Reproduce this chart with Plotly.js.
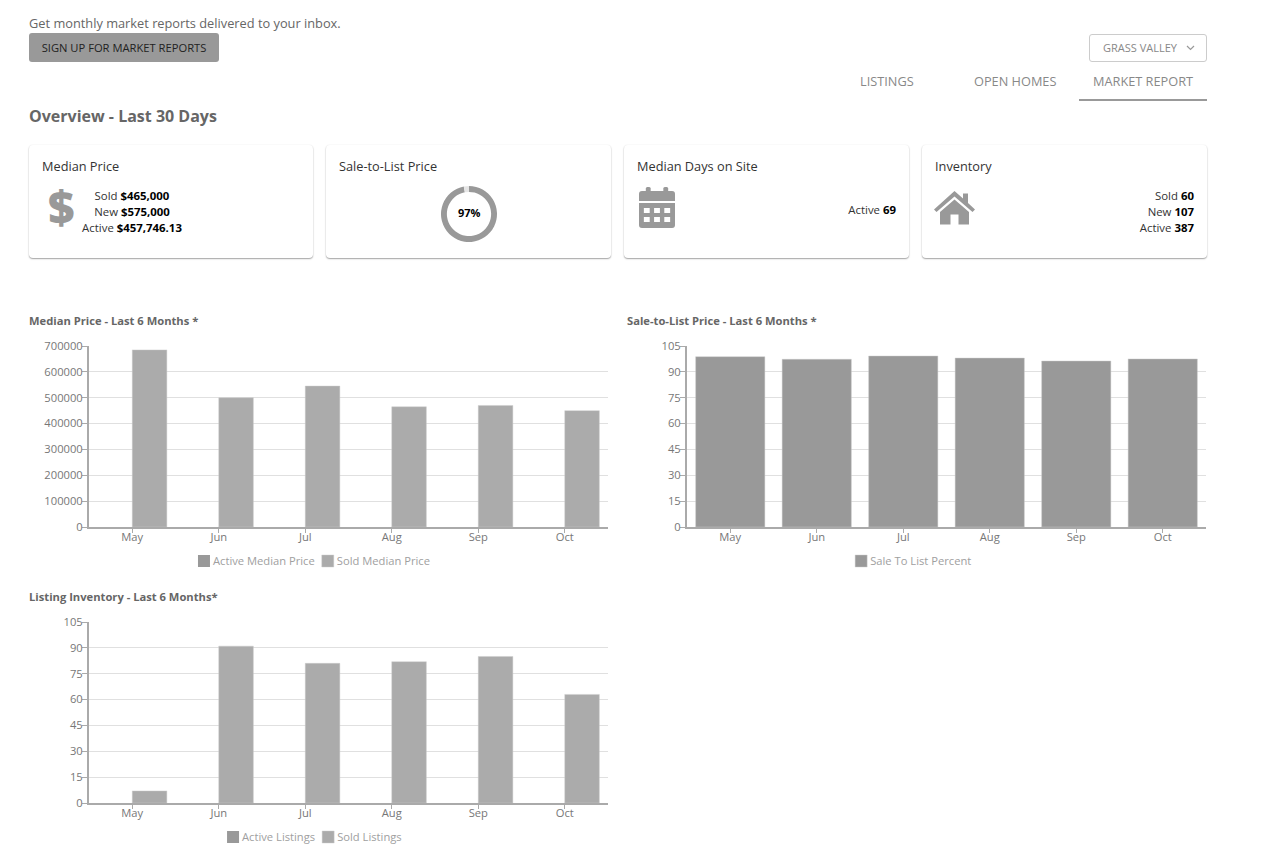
<!DOCTYPE html>
<html>
<head>
<meta charset="utf-8">
<title>Market Report</title>
<script src="https://cdn.plot.ly/plotly-3.0.1.min.js"></script>
<style>
html,body{margin:0;padding:0;background:#fff;width:1273px;height:866px;overflow:hidden;font-family:"Open Sans",sans-serif;color:#666;}
.a{position:absolute;white-space:nowrap;}
.card{position:absolute;top:145px;height:113px;background:#fff;border-radius:4px;box-shadow:0 1px 1.5px rgba(0,0,0,.36),0 0 2px rgba(0,0,0,.05);}
.ct{position:absolute;font-size:12.75px;color:#333;line-height:18px;top:157px;white-space:nowrap;}
.stat{position:absolute;font-size:11.4px;line-height:16px;color:#333;white-space:nowrap;}
.stat b{color:#000;font-weight:700;margin-left:3px;}
.sec{position:absolute;font-size:11.2px;font-weight:700;color:#666;line-height:16px;white-space:nowrap;}
.tab{position:absolute;top:72px;font-size:12.75px;line-height:18px;color:#888;white-space:nowrap;}
.plot{position:absolute;}
</style>
</head>
<body>
<div class="a" style="left:29px;top:14px;font-size:12.8px;line-height:18px;color:#666;">Get monthly market reports delivered to your inbox.</div>
<div class="a" style="left:29px;top:33px;width:190px;height:29px;background:#999;border-radius:3px;font-size:11.2px;line-height:30px;text-align:center;color:#222;">SIGN UP FOR MARKET REPORTS</div>
<div class="a" style="left:1089px;top:34px;width:116px;height:26px;border:1px solid #ccc;border-radius:3px;"></div>
<div class="a" style="left:1103px;top:39px;font-size:11px;line-height:18px;color:#888;">GRASS VALLEY</div>
<svg class="a" style="left:1186px;top:45px;" width="9" height="6"><path d="M1 1 L4.5 4.5 L8 1" fill="none" stroke="#999" stroke-width="1.2"/></svg>
<div class="tab" style="left:860px;">LISTINGS</div>
<div class="tab" style="left:974px;">OPEN HOMES</div>
<div class="tab" style="left:1093px;">MARKET REPORT</div>
<div class="a" style="left:1079px;top:99px;width:128px;height:2px;background:#999;"></div>
<div class="a" style="left:29px;top:105px;font-size:16px;font-weight:700;line-height:22px;color:#666;">Overview - Last 30 Days</div>

<div class="card" style="left:29px;width:284px;"></div>
<div class="card" style="left:326px;width:285px;"></div>
<div class="card" style="left:624px;width:285px;"></div>
<div class="card" style="left:922px;width:285px;"></div>

<div class="ct" style="left:42px;">Median Price</div>
<div class="ct" style="left:339px;">Sale-to-List Price</div>
<div class="ct" style="left:637px;">Median Days on Site</div>
<div class="ct" style="left:935px;">Inventory</div>

<div class="a" style="left:48px;top:173px;font-size:46px;font-weight:800;line-height:66px;color:#999;">$</div>
<div class="stat" style="left:62px;width:140px;top:188px;text-align:center;">Sold<b>$465,000</b><br>New<b>$575,000</b><br>Active<b>$457,746.13</b></div>

<div id="donut" class="plot" style="left:434px;top:179px;width:70px;height:70px;"></div>

<svg class="a" style="left:639px;top:187px;" width="36" height="42" viewBox="0 0 37 42" preserveAspectRatio="none">
  <rect x="7" y="0" width="5" height="8" rx="1.5" fill="#999"/><rect x="25" y="0" width="5" height="8" rx="1.5" fill="#999"/>
  <path d="M3 4 H34 Q37 4 37 7 V14 H0 V7 Q0 4 3 4 Z" fill="#999"/>
  <path d="M0 16 H37 V38 Q37 41 34 41 H3 Q0 41 0 38 Z" fill="#999"/>
  <g fill="#fff"><rect x="5" y="21" width="6" height="5"/><rect x="15.5" y="21" width="6" height="5"/><rect x="26" y="21" width="6" height="5"/>
  <rect x="5" y="30" width="6" height="5"/><rect x="15.5" y="30" width="6" height="5"/><rect x="26" y="30" width="6" height="5"/></g>
</svg>
<div class="stat" style="right:377px;top:202px;text-align:right;">Active<b>69</b></div>

<svg class="a" style="left:934px;top:191px;" width="41" height="34" viewBox="0 0 41 34">
  <path d="M20.5 0 L29 7.5 V2.5 H34 V12 L41 18.5 L38.5 21 L20.5 5.5 L2.5 21 L0 18.5 Z" fill="#999"/>
  <path d="M20.5 8.5 L35 21 V33.5 H24.5 V23.5 H16.5 V33.5 H6 V21 Z" fill="#999"/>
</svg>
<div class="stat" style="right:79px;top:188px;text-align:right;">Sold<b>60</b><br>New<b>107</b><br>Active<b>387</b></div>

<div class="sec" style="left:29px;top:313px;">Median Price - Last 6 Months *</div>
<div class="sec" style="left:627px;top:313px;">Sale-to-List Price - Last 6 Months *</div>
<div class="sec" style="left:29px;top:589px;">Listing Inventory - Last 6 Months*</div>

<div id="priceChart" class="plot" style="left:0;top:330px;width:620px;height:250px;"></div>
<div id="ratioChart" class="plot" style="left:598px;top:330px;width:620px;height:250px;"></div>
<div id="listingChart" class="plot" style="left:0;top:606px;width:620px;height:250px;"></div>

<script>
var months = ["May", "Jun", "Jul", "Aug", "Sep", "Oct"];
var activeMedianPrice = [0, 0, 0, 0, 0, 0];
var soldMedianPrice = [685000, 500000, 545000, 465000, 470000, 450000];
var saleToListPercent = [98.8, 97.3, 99.2, 98, 96.3, 97.5];
var activeListings = [0, 0, 0, 0, 0, 0];
var soldListings = [7, 91, 81, 82, 85, 63];
var priceTicks = [0, 100000, 200000, 300000, 400000, 500000, 600000, 700000];
var countTicks = [0, 15, 30, 45, 60, 75, 90, 105];
var donutValues = [97, 3];

var DARK = "#999999", LIGHT = "#ababab";
var FONT = '"Open Sans", sans-serif';

function bar(name, values, color, edge) {
  return {type: "bar", name: name, x: months, y: values,
          marker: {color: color, line: {color: "rgba(205,205,205,0.45)", width: edge}},
          hoverinfo: "x+y"};
}
function chartLayout(ticks, legendX) {
  return {
    width: 620, height: 250,
    margin: {l: 89, r: 12, t: 16, b: 0},
    paper_bgcolor: "rgba(0,0,0,0)", plot_bgcolor: "rgba(0,0,0,0)",
    font: {family: FONT, size: 11, color: "#777"},
    barmode: "group", bargap: 0.2, bargroupgap: 0,
    xaxis: {type: "category", categoryarray: months, showgrid: false, zeroline: false,
            showline: true, linecolor: "#aaa", linewidth: 2,
            ticks: "outside", ticklen: 4, tickcolor: "#aaa", tickwidth: 1,
            ticklabelstandoff: -5,
            tickfont: {family: FONT, size: 11.2, color: "#777"}},
    yaxis: {domain: [53 / 234, 1], range: [0, ticks[ticks.length - 1]], tickvals: ticks, ticktext: ticks.map(String),
            showgrid: true, gridcolor: "#e0e0e0", gridwidth: 1, zeroline: false,
            showline: true, linecolor: "#aaa", linewidth: 2,
            ticks: "outside", ticklen: 5, tickcolor: "#aaa", tickwidth: 1,
            ticklabelstandoff: -3,
            tickfont: {family: FONT, size: 11.2, color: "#777"}},
    showlegend: true,
    legend: {orientation: "h", xref: "paper", x: legendX, xanchor: "left",
             yref: "paper", y: 19 / 234, yanchor: "middle",
             font: {family: FONT, size: 11.2, color: "#a0a0a0"},
             bgcolor: "rgba(0,0,0,0)", itemclick: false, itemdoubleclick: false,
             tracegroupgap: 0}
  };
}
// Tighten the swatch-to-label gap of the library's legend.
function tightenLegend(gd) {
  var x = 0;
  gd.querySelectorAll(".legend .traces").forEach(function (t) {
    var txt = t.querySelector(".legendtext");
    txt.setAttribute("x", 29);
    var m = /translate\(([-\d.]+)[ ,]*([-\d.]*)\)/.exec(t.getAttribute("transform"));
    t.setAttribute("transform", "translate(" + x + "," + (m ? (m[2] || 0) : 0) + ")");
    x += 29 + txt.getComputedTextLength() - 7;
  });
}
var cfg = {displayModeBar: false};

var charts = [
  Plotly.newPlot("priceChart",
    [bar("Active Median Price", activeMedianPrice, DARK, 0), bar("Sold Median Price", soldMedianPrice, LIGHT, 1)],
    chartLayout(priceTicks, 0.183), cfg),
  Plotly.newPlot("ratioChart",
    [Object.assign(bar("Sale To List Percent", saleToListPercent, DARK, 1), {showlegend: true})],
    chartLayout(countTicks, 0.297), cfg),
  Plotly.newPlot("listingChart",
    [bar("Active Listings", activeListings, DARK, 0), bar("Sold Listings", soldListings, LIGHT, 1)],
    chartLayout(countTicks, 0.239), cfg)
];
Promise.all(charts).then(function (gds) { gds.forEach(tightenLegend); });

Plotly.newPlot("donut", [{
  type: "pie", values: donutValues, labels: ["Sale-to-List", "Remainder"],
  hole: 0.79, sort: false, direction: "clockwise", rotation: 0,
  textinfo: "none", hoverinfo: "none", showlegend: false,
  marker: {colors: ["#999999", "#e6e6e6"], line: {width: 0}}
}], {
  width: 70, height: 70, margin: {l: 7, r: 7, t: 7, b: 7},
  paper_bgcolor: "rgba(0,0,0,0)", showlegend: false,
  annotations: [{text: "<b>97%</b>", showarrow: false, x: 0.5, y: 0.5, xref: "paper", yref: "paper", yshift: 1.5,
                 font: {family: FONT, size: 11, color: "#000"}}]
}, cfg);
</script>
</body>
</html>
